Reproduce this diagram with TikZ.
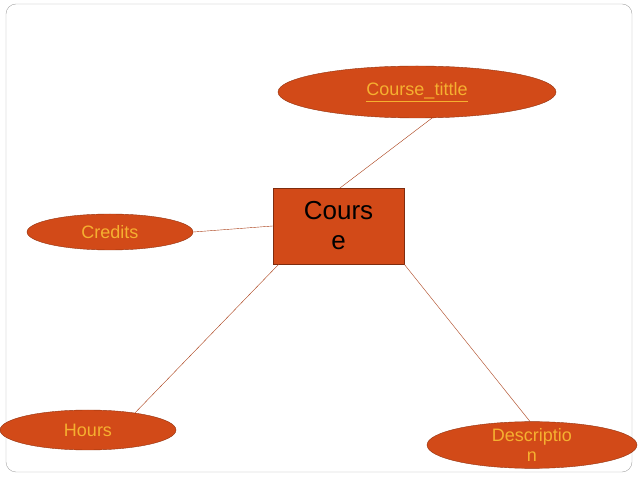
\documentclass[tikz,border=0pt]{standalone}
\usepackage{fontspec}
\setmainfont{Liberation Sans}
\usetikzlibrary{shapes.geometric}
\definecolor{fillc}{HTML}{D24A18}
\definecolor{txt}{HTML}{F5B030}
\begin{document}
\begin{tikzpicture}[x=1pt,y=-1pt,
  ent/.style={ellipse,draw=fillc!70!black,fill=fillc,inner sep=0pt,text=txt,font=\fontsize{18}{20}\selectfont},
  conn/.style={draw=fillc!80!black,line width=0.4pt}]
\useasboundingbox (0,0) rectangle (638,478);
\draw[gray!70,rounded corners=10pt] (6,4) rectangle (632,472);
\node[draw=fillc!60!black,fill=fillc,minimum width=131pt,minimum height=76pt,inner sep=0pt,
  align=center,font=\fontsize{26}{30}\selectfont] (c) at (338.5,226) {Cours\\e};
\node[ent,minimum width=278pt,minimum height=52pt] (t) at (417,92) {\underline{Course\_tittle}};
\node[ent,minimum width=166pt,minimum height=36pt] (cr) at (110,232) {Credits};
\node[ent,minimum width=176pt,minimum height=40pt] (h) at (88,430) {Hours};
\node[ent,minimum width=210pt,minimum height=40pt,align=center,text width=130pt] (d) at (532,445) {\fontsize{18}{22}\selectfont Descriptio\\n};
\draw[conn] (340,188) -- (t.-60);
\draw[conn] (cr.east) -- (c.west |- 0,226);
\draw[conn] (h.20) -- (279,264);
\draw[conn] (d.95) -- (c.south east);
\end{tikzpicture}
\end{document}
